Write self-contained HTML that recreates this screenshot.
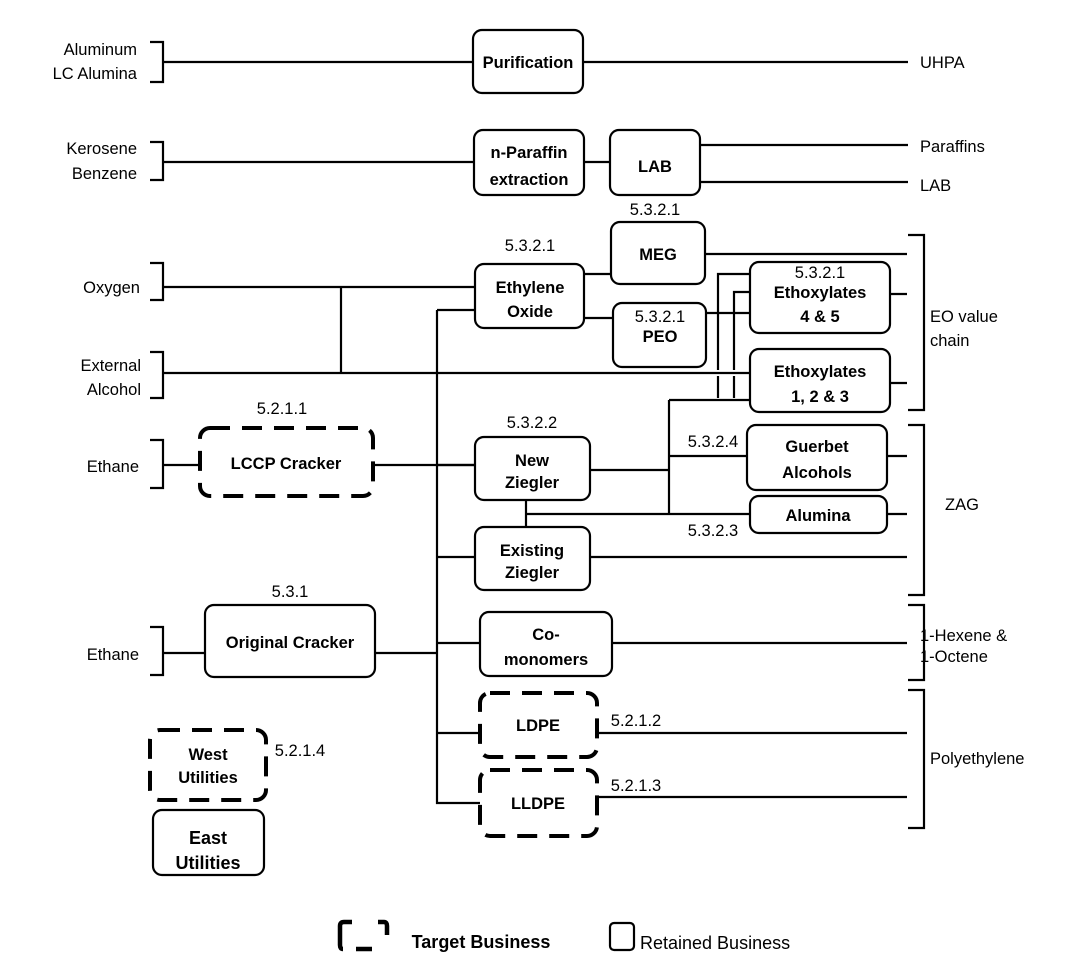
<!DOCTYPE html>
<html><head><meta charset="utf-8"><style>
html,body{margin:0;padding:0;background:#fff;}
svg{display:block;}
text{font-family:"Liberation Sans Narrow","Liberation Sans",sans-serif;font-size:16.5px;fill:#000;}
.b{font-weight:bold;}
.m{text-anchor:middle;}
.e{text-anchor:end;}
.s{fill:#fff;stroke:#000;stroke-width:2.2;}
.d{fill:#fff;stroke:#000;stroke-width:4;stroke-dasharray:20,12;}
.l{stroke:#000;stroke-width:2.2;fill:none;}
</style></head><body>
<svg width="1065" height="979" viewBox="0 0 1065 979" xmlns="http://www.w3.org/2000/svg">
<g class="l">
<path d="M150 42H163V82H150M163 62H473M583 62H908"/>
<path d="M150 142H163V180H150M163 162H474M584 162H610M700 145H908M700 182H908"/>
<path d="M705 254H907M584 274H611M584 318H613"/>
<path d="M150 263H163V300H150M163 287H475M341 287V373"/>
<path d="M150 352H163V398H150M163 373H750"/>
<path d="M437 310H475M437 310V803H480M437 465H476M437 557H475M437 643H480M437 733H480M375 653H437"/>
<path d="M150 440H163V488H150M163 465H200M373 465H476"/>
<path d="M150 627H163V675H150M163 653H205"/>
<path d="M590 470H669M669 400V514M669 400H750M669 456H747M526 500V527M526 514H750"/>
<path d="M590 557H907M612 643H907M597 733H907M597 797H907"/>
<path d="M718 398V376M718 370V274H750M734 398V376M734 370V292H750M706 313H750"/>
<path d="M890 294H907M890 383H907M887 456H907M887 514H907"/>
<path d="M908 235H924V410H908M908 425H924V595H908M908 605H924V680H908M908 690H924V828H908"/>
</g>
<rect class="s" x="473" y="30" width="110" height="63" rx="9"/>
<rect class="s" x="474" y="130" width="110" height="65" rx="9"/>
<rect class="s" x="610" y="130" width="90" height="65" rx="9"/>
<rect class="s" x="611" y="222" width="94" height="62" rx="9"/>
<rect class="s" x="475" y="264" width="109" height="64" rx="9"/>
<rect class="s" x="613" y="303" width="93" height="64" rx="9"/>
<rect class="s" x="750" y="262" width="140" height="71" rx="9"/>
<rect class="s" x="750" y="349" width="140" height="63" rx="9"/>
<rect class="s" x="747" y="425" width="140" height="65" rx="9"/>
<rect class="s" x="750" y="496" width="137" height="37" rx="9"/>
<rect class="s" x="475" y="437" width="115" height="63" rx="9"/>
<rect class="s" x="475" y="527" width="115" height="63" rx="9"/>
<rect class="s" x="205" y="605" width="170" height="72" rx="9"/>
<rect class="s" x="480" y="612" width="132" height="64" rx="9"/>
<rect class="s" x="153" y="810" width="111" height="65" rx="9"/>
<rect class="d" x="200" y="428" width="173" height="68" rx="10"/>
<rect class="d" x="480" y="693" width="117" height="64" rx="10"/>
<rect class="d" x="480" y="770" width="117" height="66" rx="10"/>
<rect class="d" x="150" y="730" width="116" height="70" rx="10"/>
<path d="M352 922H344Q340 922 340 926V945Q340 949 343 949M356 949H372M378 922H384Q387 922 387 926V935" class="l" style="stroke-width:4.5"/>
<rect class="s" x="610" y="923" width="24" height="27" rx="4"/>
<text class="e" x="137" y="55">Aluminum</text>
<text class="e" x="137" y="79">LC Alumina</text>
<text class="e" x="137" y="154">Kerosene</text>
<text class="e" x="137" y="179">Benzene</text>
<text class="e" x="140" y="293">Oxygen</text>
<text class="e" x="141" y="371">External</text>
<text class="e" x="141" y="395">Alcohol</text>
<text class="e" x="139" y="472">Ethane</text>
<text class="e" x="139" y="660">Ethane</text>
<text x="920" y="68">UHPA</text>
<text x="920" y="152">Paraffins</text>
<text x="920" y="191">LAB</text>
<text x="930" y="322">EO value</text>
<text x="930" y="346">chain</text>
<text x="945" y="510">ZAG</text>
<text x="920" y="641">1-Hexene &amp;</text>
<text x="920" y="662">1-Octene</text>
<text x="930" y="764">Polyethylene</text>
<g class="b m">
<text x="528" y="68">Purification</text>
<text x="529" y="158">n-Paraffin</text>
<text x="529" y="185">extraction</text>
<text x="655" y="172">LAB</text>
<text x="658" y="260">MEG</text>
<text x="530" y="293">Ethylene</text>
<text x="530" y="317">Oxide</text>
<text x="660" y="342">PEO</text>
<text x="820" y="298">Ethoxylates</text>
<text x="820" y="322">4 &amp; 5</text>
<text x="820" y="377">Ethoxylates</text>
<text x="820" y="402">1, 2 &amp; 3</text>
<text x="817" y="452">Guerbet</text>
<text x="817" y="478">Alcohols</text>
<text x="818" y="521">Alumina</text>
<text x="532" y="466">New</text>
<text x="532" y="488">Ziegler</text>
<text x="532" y="556">Existing</text>
<text x="532" y="578">Ziegler</text>
<text x="290" y="648">Original Cracker</text>
<text x="546" y="640">Co-</text>
<text x="546" y="665">monomers</text>
<text x="286" y="469">LCCP Cracker</text>
<text x="538" y="731">LDPE</text>
<text x="538" y="809">LLDPE</text>
<text x="208" y="760">West</text>
<text x="208" y="783">Utilities</text>
<text x="208" y="844" style="font-size:18px">East</text>
<text x="208" y="869" style="font-size:18px">Utilities</text>
<text x="481" y="948" style="font-size:18px">Target Business</text>
</g>
<text x="640" y="949" style="font-size:18px">Retained Business</text>
<g class="m">
<text x="655" y="215">5.3.2.1</text>
<text x="530" y="251">5.3.2.1</text>
<text x="660" y="322">5.3.2.1</text>
<text x="820" y="278">5.3.2.1</text>
<text x="532" y="428">5.3.2.2</text>
<text x="282" y="414">5.2.1.1</text>
<text x="290" y="597">5.3.1</text>
<text x="713" y="447">5.3.2.4</text>
<text x="713" y="536">5.3.2.3</text>
<text x="636" y="726">5.2.1.2</text>
<text x="636" y="791">5.2.1.3</text>
<text x="300" y="756">5.2.1.4</text>
</g>
</svg>
</body></html>
